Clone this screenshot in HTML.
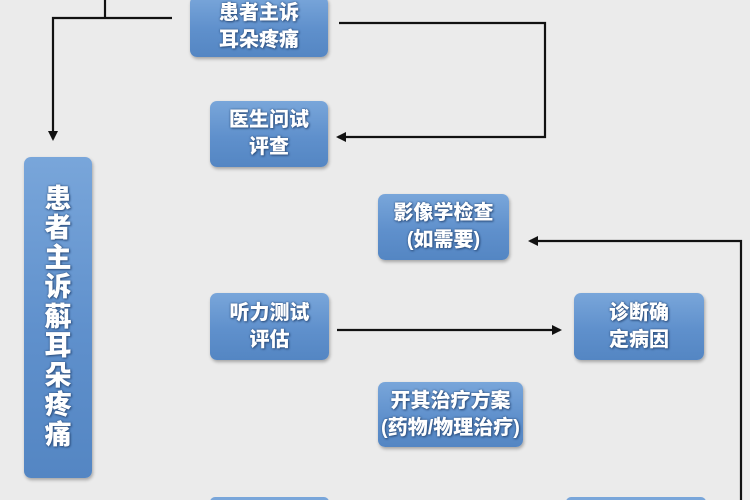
<!DOCTYPE html>
<html><head><meta charset="utf-8"><style>
html,body{margin:0;padding:0;width:750px;height:500px;overflow:hidden}
body{position:relative;background:#ebebeb;font-family:"Liberation Sans","Noto Sans CJK SC",sans-serif}
.b{position:absolute;border-radius:7px;background:linear-gradient(180deg,#79a6da 0%,#5f90cc 55%,#5486c3 100%);box-shadow:1px 2px 3px rgba(0,0,0,.3);color:#fff;font-weight:900;font-size:20px;line-height:27px;text-align:center;display:flex;align-items:center;justify-content:center;text-shadow:0 0 2px #2d4f7e,1px 1px 2px #2d4f7e}
.v{font-size:27px;line-height:29.5px;flex-direction:column}
svg{position:absolute;left:0;top:0}
</style></head><body>
<svg width="750" height="500"><defs><marker id="a" markerWidth="10" markerHeight="10" refX="8" refY="5" orient="auto" markerUnits="userSpaceOnUse"><path d="M0,0 L10,5 L0,10 z" fill="#111"/></marker></defs>
<g stroke="#111" stroke-width="2.2" fill="none">
<path d="M105,0 V18"/>
<path d="M172,18 H53 V139" marker-end="url(#a)"/>
<path d="M339,23 H545 V137 H338" marker-end="url(#a)"/>
<path d="M741,500 V241 H530" marker-end="url(#a)"/>
<path d="M337,330 H560" marker-end="url(#a)"/>
</g>
<rect x="210" y="497" width="119" height="10" rx="5" fill="#79a6da"/>
<rect x="566" y="497" width="140" height="10" rx="5" fill="#79a6da"/>
</svg>
<div class="b" style="left:190px;top:-4px;width:138px;height:61px">患者主诉<br>耳朵疼痛</div>
<div class="b" style="left:210px;top:101px;width:118px;height:66px">医生问试<br>评查</div>
<div class="b v" style="left:24px;top:157px;width:68px;height:321px"><span>患</span><span>者</span><span>主</span><span>诉</span><span>蔛</span><span>耳</span><span>朵</span><span>疼</span><span>痛</span></div>
<div class="b" style="left:378px;top:194px;width:131px;height:66px">影像学检查<br>(如需要)</div>
<div class="b" style="left:210px;top:293px;width:119px;height:67px">听力测试<br>评估</div>
<div class="b" style="left:574px;top:293px;width:130px;height:67px">诊断确<br>定病因</div>
<div class="b" style="left:378px;top:382px;width:145px;height:65px">开其治疗方案<br>(药物/物理治疗)</div>
</body></html>
